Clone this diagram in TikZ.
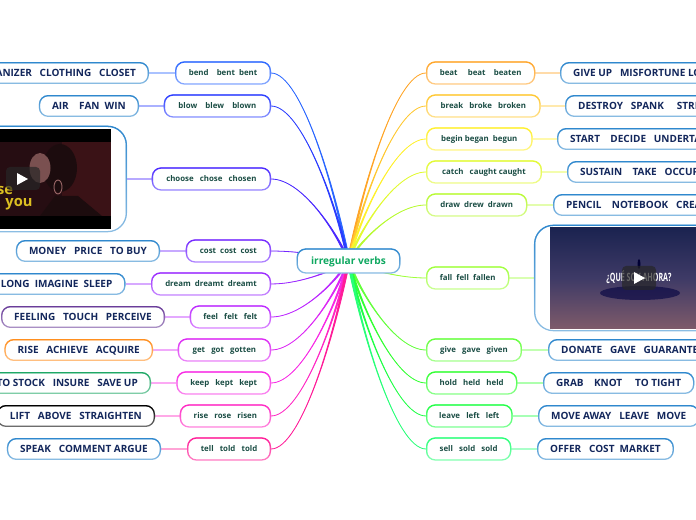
\documentclass[tikz,border=0pt]{standalone}
\usepackage{fontspec}
\setmainfont{Open Sans}
\usetikzlibrary{calc, backgrounds, fadings}
\def\cornerradius{6.5pt}
\def\verbheight{16.5pt}
\def\meaningheight{15.5pt}
\def\meaningsep{9.4pt}
\definecolor{meaningtext}{HTML}{13275C}
\definecolor{verbtext}{HTML}{1A4D44}
\definecolor{roottext}{HTML}{0EA860}
\definecolor{meaningdraw}{HTML}{2F88CE}
\definecolor{feelingdraw}{HTML}{6A3D9A}
\definecolor{risedraw}{HTML}{FF8F1F}
\definecolor{stockdraw}{HTML}{1FA866}
\definecolor{VerbBend}{HTML}{2A66FF}
\definecolor{VerbBlow}{HTML}{2A3CFF}
\definecolor{VerbChoose}{HTML}{4A28FF}
\definecolor{VerbCost}{HTML}{7428FF}
\definecolor{VerbDream}{HTML}{9A28FF}
\definecolor{VerbFeel}{HTML}{BC28FF}
\definecolor{VerbGet}{HTML}{DC28F4}
\definecolor{VerbKeep}{HTML}{F828E4}
\definecolor{VerbRise}{HTML}{FF28C4}
\definecolor{VerbTell}{HTML}{FF1C98}
\definecolor{VerbBeat}{HTML}{FFA528}
\definecolor{VerbBreak}{HTML}{FFC832}
\definecolor{VerbBegin}{HTML}{FFF02C}
\definecolor{VerbCatch}{HTML}{E2FA32}
\definecolor{VerbDraw}{HTML}{B8FA32}
\definecolor{VerbFall}{HTML}{A0FF3C}
\definecolor{VerbGive}{HTML}{64FF3C}
\definecolor{VerbHold}{HTML}{32FF32}
\definecolor{VerbLeave}{HTML}{20FF46}
\definecolor{VerbSell}{HTML}{28FF78}
\definecolor{videomaroon}{HTML}{260D12}
\definecolor{videocurtain}{HTML}{3A1216}
\definecolor{videoskin}{HTML}{7A5050}
\definecolor{videohair}{HTML}{1C0C0E}
\definecolor{videotop}{HTML}{1B2350}
\definecolor{videomiddle}{HTML}{3E3A66}
\definecolor{videobottom}{HTML}{7D5A6A}
\tikzset{
	% general
	module/.style={
		draw,
		line width=0.95pt,
		fill=white,
		rounded corners=\cornerradius,
		shape=rectangle,
		inner sep=0pt,
		align=center,
	},
	% border, darker at the top
	edged/.style={
		draw=#1!55,
		postaction={draw=#1, path fading=south},
	},
	% centre of the map
	root/.style={
		module,
		edged=meaningdraw,
		minimum height=18pt,
		minimum width=77pt,
		text height=5.8pt,
		text depth=1.2pt,
		text=roottext,
		font=\fontsize{7.6}{9}\selectfont\bfseries,
	},
	% irregular forms
	verb/.style={
		module,
		minimum height=\verbheight,
		text height=4.6pt,
		text depth=0.8pt,
		text=verbtext,
		font=\fontsize{5.9}{8}\selectfont\bfseries,
	},
	% translations
	meaning/.style={
		module,
		edged=#1,
		minimum height=\meaningheight,
		inner xsep=\meaningsep,
		text height=5.4pt,
		text depth=0pt,
		text=meaningtext,
		font=\fontsize{7.5}{9}\selectfont\bfseries,
	},
	meaning/.default=meaningdraw,
	% video frames
	videoframe/.style={
		module,
		edged=meaningdraw,
		rounded corners=14pt,
	},
	% connections
	connection/.style={
		line width=0.6pt,
	},
	leaflink/.style={
		line width=1.2pt,
	},
	playbox/.style={
		fill=black!70!gray,
		fill opacity=0.7,
		rounded corners=3pt,
	},
	videotext/.style={
		font=\fontsize{11}{11}\selectfont\bfseries,
		text=yellow!75!orange!85!black,
		inner sep=0pt,
	},
}
% from a verb to the centre of the map, wider at the centre
\def\branch#1#2#3{
	\fill[connection, fill=#3, draw=#3]
		let \p1=(#1.#2), \p2=(root.center),
		\p3=($(\p1)!0.4!(\x2,\y1)$),
		\p4=($(\p2)+({0.15*(\x1-\x2)},{0.35*(\y1-\y2)})$) in
		(#1.#2) .. controls (\p3) and (\p4) .. ($(root.center)!1pt!90:(#1.#2)$)
		-- ($(root.center)!1pt!-90:(#1.#2)$) .. controls (\p4) and (\p3) .. (#1.#2);
}
\begin{document}
\begin{tikzpicture}[x=0.75pt, y=-0.75pt]
	\useasboundingbox (0,0) rectangle (696,520);
	\clip (0,0) rectangle (696,520);
	%
	\node[root] (root) at (348.5,261) {irregular verbs};
	%
	% left verbs
	\node[verb, edged=VerbBend, anchor=east, minimum width=71pt] (bend) at (271,73) {bend~~~~bent~~bent};
	\node[verb, edged=VerbBlow, anchor=east, minimum width=79.5pt] (blow) at (271,106) {blow~~~~blew~~~~blown};
	\node[verb, edged=VerbChoose, anchor=east, minimum width=88.5pt] (choose) at (271,179) {choose~~~chose~~~chosen};
	\node[verb, edged=VerbCost, anchor=east, minimum width=63pt] (cost) at (271,251) {cost~~cost~~cost};
	\node[verb, edged=VerbDream, anchor=east, minimum width=89pt] (dream) at (271,284) {dream~~dreamt~~dreamt};
	\node[verb, edged=VerbFeel, anchor=east, minimum width=60pt] (feel) at (271,317) {feel~~~felt~~~felt};
	\node[verb, edged=VerbGet, anchor=east, minimum width=69pt] (get) at (271,350) {get~~~got~~~gotten};
	\node[verb, edged=VerbKeep, anchor=east, minimum width=70pt] (keep) at (271,383) {keep~~~kept~~~kept};
	\node[verb, edged=VerbRise, anchor=east, minimum width=67.5pt] (rise) at (271,416) {rise~~~rose~~~risen};
	\node[verb, edged=VerbTell, anchor=east, minimum width=62pt] (tell) at (271,449) {tell~~~told~~~told};
	%
	% right verbs
	\node[verb, edged=VerbBeat, anchor=west, minimum width=81pt] (beat) at (426,73) {beat~~~~~beat~~~~beaten};
	\node[verb, edged=VerbBreak, anchor=west, minimum width=85pt] (break) at (426,106) {break~~~broke~~~broken};
	\node[verb, edged=VerbBegin, anchor=west, minimum width=79pt] (begin) at (426,139) {begin~began~~begun};
	\node[verb, edged=VerbCatch, anchor=west, minimum width=86pt] (catch) at (426,172) {catch~~~caught~caught};
	\node[verb, edged=VerbDraw, anchor=west, minimum width=75pt] (draw) at (426,205) {draw~~drew~~drawn};
	\node[verb, edged=VerbFall, anchor=west, minimum width=61.5pt] (fall) at (426,278) {fall~~fell~~fallen};
	\node[verb, edged=VerbGive, anchor=west, minimum width=71pt] (give) at (426,350) {give~~~gave~~~given};
	\node[verb, edged=VerbHold, anchor=west, minimum width=67.5pt] (hold) at (426,383) {hold~~~held~~~held};
	\node[verb, edged=VerbLeave, anchor=west, minimum width=64pt] (leave) at (426,416) {leave~~~left~~~left};
	\node[verb, edged=VerbSell, anchor=west, minimum width=63pt] (sell) at (426,449) {sell~~~sold~~~sold};
	%
	% left translations
	\node[meaning, anchor=east] (organizer) at (149,73) {ORGANIZER~~~CLOTHING~~~CLOSET};
	\node[meaning, anchor=east] (air) at (139,106) {AIR~~~~FAN~~WIN};
	\node[meaning, anchor=east] (money) at (160,251) {MONEY~~~PRICE~~~TO BUY};
	\node[meaning, anchor=east] (long) at (125.5,284) {LONG~~IMAGINE~~SLEEP};
	\node[meaning=feelingdraw, anchor=east] (feeling) at (165,317) {FEELING~~~TOUCH~~~PERCEIVE};
	\node[meaning=risedraw, anchor=east] (riseup) at (153,350) {RISE~~~ACHIEVE~~~ACQUIRE};
	\node[meaning=stockdraw, anchor=east] (stock) at (151,383) {TO STOCK~~~INSURE~~~SAVE UP};
	\node[meaning=black, anchor=east] (lift) at (155,416) {LIFT~~~ABOVE~~~STRAIGHTEN};
	\node[meaning, anchor=east] (speak) at (161,449) {SPEAK~~~COMMENT ARGUE};
	%
	% right translations
	\node[meaning, anchor=west] (giveup) at (560,73) {GIVE UP~~~MISFORTUNE LOSE};
	\node[meaning, anchor=west] (destroy) at (565,106) {DESTROY~~~SPANK~~~~~STRIKE};
	\node[meaning, anchor=west] (start) at (557,139) {START~~~~DECIDE~~~UNDERTAKE};
	\node[meaning, anchor=west] (sustain) at (567,172) {SUSTAIN~~~~TAKE~~~OCCUPY};
	\node[meaning, anchor=west] (pencil) at (553,205) {PENCIL~~~~NOTEBOOK~~~CREATE};
	\node[meaning, anchor=west] (donate) at (548,350) {DONATE~~~GAVE~~~GUARANTEE};
	\node[meaning, anchor=west] (grab) at (543,383) {GRAB~~~~KNOT~~~~~TO TIGHT};
	\node[meaning, anchor=west] (moveaway) at (538,416) {MOVE AWAY~~~LEAVE~~~MOVE};
	\node[meaning, anchor=west] (offer) at (537,449) {OFFER~~~COST~~MARKET};
	%
	% video frames
	\node[videoframe, anchor=east, minimum width=160pt, minimum height=79pt] (videoleft) at (127,179) {};
	\node[videoframe, anchor=west, minimum width=160pt, minimum height=79pt] (videoright) at (534,278) {};
	%
	% left video
	\fill[black] (-67,129) rectangle (111,229);
	\fill[videomaroon] (-67,142) rectangle (111,216);
	\fill[videocurtain] (62,142) rectangle (111,216);
	\fill[videohair] (60,168) ellipse (17 and 24);
	\fill[videohair] (40,216) -- (55,196) -- (78,196) -- (102,216) -- cycle;
	\fill[videoskin] (40,168) ellipse (10.5 and 15);
	\draw[gray!80!red, line width=0.7pt] (58,187) ellipse (4 and 7);
	\node[videotext] (wordse) at (5,190) {se};
	\node[videotext] (wordyou) at (19,204) {you};
	\fill[playbox] (6,167) rectangle (40,190);
	\fill[white] (17,173) -- (28,179) -- (17,185) -- cycle;
	%
	% right video
	\shade[top color=videotop, bottom color=videobottom, middle color=videomiddle] (550,228) rectangle (728,328);
	\fill[black!75!blue, opacity=0.6] (640,293) ellipse (40 and 7);
	\fill[black!80!blue] (639,264) ellipse (1.5 and 5);
	\node[videotext, text=white, font=\fontsize{8.6}{9}\selectfont\bfseries, xscale=0.62] (wordhora) at (639,277) {¿QUÉ SOY AHORA?};
	\fill[playbox] (622,266) rectangle (656,290);
	\fill[white] (634,272) -- (645,278) -- (634,284) -- cycle;
	%
	% connections behind the nodes
	\begin{scope}[on background layer]
		\branch{bend}{east}{VerbBend}
		\branch{blow}{east}{VerbBlow}
		\branch{choose}{east}{VerbChoose}
		\branch{cost}{east}{VerbCost}
		\branch{dream}{east}{VerbDream}
		\branch{feel}{east}{VerbFeel}
		\branch{get}{east}{VerbGet}
		\branch{keep}{east}{VerbKeep}
		\branch{rise}{east}{VerbRise}
		\branch{tell}{east}{VerbTell}
		\branch{beat}{west}{VerbBeat}
		\branch{break}{west}{VerbBreak}
		\branch{begin}{west}{VerbBegin}
		\branch{catch}{west}{VerbCatch}
		\branch{draw}{west}{VerbDraw}
		\branch{fall}{west}{VerbFall}
		\branch{give}{west}{VerbGive}
		\branch{hold}{west}{VerbHold}
		\branch{leave}{west}{VerbLeave}
		\branch{sell}{west}{VerbSell}
		%
		\draw[leaflink, draw=VerbBend!40] (bend) -- (organizer);
		\draw[leaflink, draw=VerbBlow!40] (blow) -- (air);
		\draw[leaflink, draw=VerbChoose!40] (choose) -- (videoleft);
		\draw[leaflink, draw=VerbCost!40] (cost) -- (money);
		\draw[leaflink, draw=VerbDream!40] (dream) -- (long);
		\draw[leaflink, draw=VerbFeel!40] (feel) -- (feeling);
		\draw[leaflink, draw=VerbGet!40] (get) -- (riseup);
		\draw[leaflink, draw=VerbKeep!40] (keep) -- (stock);
		\draw[leaflink, draw=VerbRise!40] (rise) -- (lift);
		\draw[leaflink, draw=VerbTell!40] (tell) -- (speak);
		\draw[leaflink, draw=VerbBeat!40] (beat) -- (giveup);
		\draw[leaflink, draw=VerbBreak!40] (break) -- (destroy);
		\draw[leaflink, draw=VerbBegin!40] (begin) -- (start);
		\draw[leaflink, draw=VerbCatch!40] (catch) -- (sustain);
		\draw[leaflink, draw=VerbDraw!40] (draw) -- (pencil);
		\draw[leaflink, draw=VerbFall!40] (fall) -- (videoright);
		\draw[leaflink, draw=VerbGive!40] (give) -- (donate);
		\draw[leaflink, draw=VerbHold!40] (hold) -- (grab);
		\draw[leaflink, draw=VerbLeave!40] (leave) -- (moveaway);
		\draw[leaflink, draw=VerbSell!40] (sell) -- (offer);
	\end{scope}
	%
\end{tikzpicture}
\end{document}
